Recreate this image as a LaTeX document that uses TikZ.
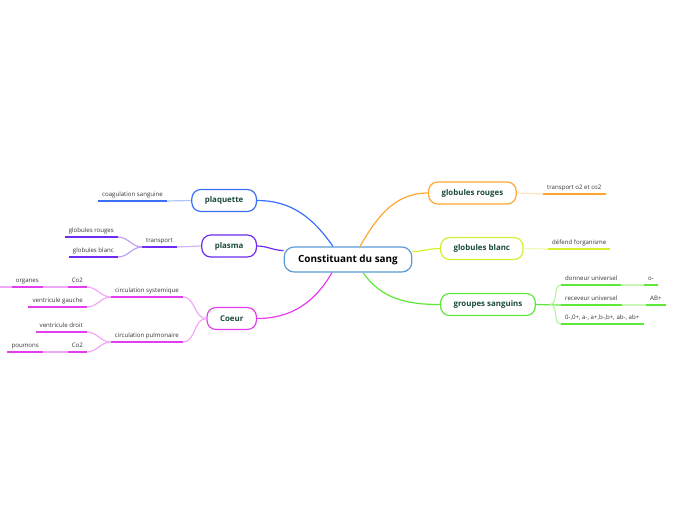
\documentclass[tikz,border=0pt]{standalone}
\usepackage{fontspec}
\setmainfont{Open Sans}
\definecolor{rootblue}{HTML}{5B9BD5}
\definecolor{topictext}{HTML}{1B4A3C}
\definecolor{blu}{HTML}{3A6FF7}
\definecolor{vio}{HTML}{6F2CF0}
\definecolor{mag}{HTML}{E23EF0}
\definecolor{ora}{HTML}{FFA630}
\definecolor{yel}{HTML}{D6EF2E}
\definecolor{grn}{HTML}{5EE83A}
\begin{document}
\begin{tikzpicture}
        [x=1pt, y=-1pt,
        root/.style={draw=rootblue, line width=1.2pt, rounded corners=10pt, fill=white, minimum height=25pt, inner xsep=14pt, font=\fontsize{9.9}{11}\selectfont\bfseries},
        topic/.style={line width=1.2pt, rounded corners=9pt, fill=white, minimum height=22pt, inner xsep=13pt, text=topictext, font=\fontsize{7.9}{9}\selectfont\bfseries},
        leaf/.style={inner xsep=4pt, inner ysep=2.5pt, text height=4.5pt, text depth=1.5pt, text=black!80, font=\fontsize{6.1}{7}\selectfont},
        link/.style={line width=1.2pt},
        under/.style={line width=1.7pt}]

        \useasboundingbox (0,0) rectangle (697,520);

        % centre and main topics
        \node[root] (centre) at (348,259.5) {Constituant du sang};
        \node[topic, draw=blu, anchor=east] (plaq) at (257,200.5) {plaquette};
        \node[topic, draw=vio, anchor=east] (plasma) at (257,246) {plasma};
        \node[topic, draw=mag, anchor=east] (coeur) at (257,318.5) {Coeur};
        \node[topic, draw=ora, anchor=west] (grouges) at (428,193) {globules rouges};
        \node[topic, draw=yel, anchor=west] (gblanc) at (440,248.5) {globules blanc};
        \node[topic, draw=grn, anchor=west] (gsang) at (440,304.5) {groupes sanguins};

        % leaves on the right
        \node[leaf, anchor=south west] (tro2) at (543,194) {transport o2 et co2};
        \node[leaf, anchor=south west] (defend) at (548,249) {défend l'organisme};
        \node[leaf, anchor=south west] (donneur) at (561,285) {donneur universel};
        \node[leaf, anchor=south west] (oneg) at (644,285) {o-};
        \node[leaf, anchor=south west] (receveur) at (561,305) {receveur universel};
        \node[leaf, anchor=south west] (abpos) at (646,305) {AB+};
        \node[leaf, anchor=south west] (liste) at (561,324) {0-,0+, a-, a+,b-,b+, ab-, ab+};

        % leaves on the left
        \node[leaf, anchor=south east] (coag) at (167,201) {coagulation sanguine};
        \node[leaf, anchor=south east] (transp) at (177,247) {transport};
        \node[leaf, anchor=south east] (lgrouge) at (118,237) {globules rouges};
        \node[leaf, anchor=south east] (lgblanc) at (118,257) {globules blanc};
        \node[leaf, anchor=south east] (circsys) at (183,297) {circulation systemique};
        \node[leaf, anchor=south east] (circpul) at (183,342) {circulation pulmonaire};
        \node[leaf, anchor=south east] (coa) at (87,287) {Co2};
        \node[leaf, anchor=south east] (organes) at (43,287) {organes};
        \node[leaf, anchor=south east] (ventg) at (87,307) {ventricule gauche};
        \node[leaf, anchor=south east] (ventd) at (87,332) {ventricule droit};
        \node[leaf, anchor=south east] (cob) at (87,352) {Co2};
        \node[leaf, anchor=south east] (poumons) at (43,352) {poumons};
        \coordinate (bord) at (0,287);
        \coordinate (gfork) at (550,304.5);

        % links from the centre
        \draw[link, blu] ([xshift=-15pt]centre.north) to[out=125,in=0] (plaq.east);
        \draw[link, vio] ([yshift=9pt]centre.west) to[out=180,in=0] (plasma.east);
        \draw[link, mag] ([xshift=-16pt]centre.south) to[out=-120,in=0] (coeur.east);
        \draw[link, ora] ([xshift=12pt]centre.north) to[out=60,in=180] (grouges.west);
        \draw[link, yel] ([yshift=8pt]centre.east) to[out=0,in=180] (gblanc.west);
        \draw[link, grn] ([xshift=15pt]centre.south) to[out=-55,in=180] (gsang.west);

        % plaquette
        \draw[link, blu!40] (plaq.west) -- (coag.south east);
        \draw[under, blu] (coag.south west) -- (coag.south east);

        % plasma
        \draw[link, vio!35] (plasma.west) -- (transp.south east);
        \draw[under, vio] (transp.south west) -- (transp.south east);
        \draw[link, vio!45] (transp.south west) to[out=180,in=0] (lgrouge.south east);
        \draw[link, vio!45] (transp.south west) to[out=180,in=0] (lgblanc.south east);
        \draw[under, vio] (lgrouge.south west) -- (lgrouge.south east);
        \draw[under, vio] (lgblanc.south west) -- (lgblanc.south east);

        % Coeur
        \draw[link, mag!45] (coeur.west) to[out=180,in=0] (circsys.south east);
        \draw[link, mag!45] (coeur.west) to[out=180,in=0] (circpul.south east);
        \draw[under, mag] (circsys.south west) -- (circsys.south east);
        \draw[under, mag] (circpul.south west) -- (circpul.south east);
        \draw[link, mag!45] (circsys.south west) to[out=180,in=0] (coa.south east);
        \draw[link, mag!45] (circsys.south west) to[out=180,in=0] (ventg.south east);
        \draw[link, mag!45] (circpul.south west) to[out=180,in=0] (ventd.south east);
        \draw[link, mag!45] (circpul.south west) to[out=180,in=0] (cob.south east);
        \draw[under, mag] (coa.south west) -- (coa.south east);
        \draw[under, mag] (ventg.south west) -- (ventg.south east);
        \draw[under, mag] (ventd.south west) -- (ventd.south east);
        \draw[under, mag] (cob.south west) -- (cob.south east);
        \draw[link, mag!45] (coa.south west) -- (organes.south east);
        \draw[link, mag!45] (cob.south west) -- (poumons.south east);
        \draw[link, mag!45] (organes.south west) -- (bord);
        \draw[under, mag] (organes.south west) -- (organes.south east);
        \draw[under, mag] (poumons.south west) -- (poumons.south east);

        % globules rouges and globules blanc
        \draw[link, ora!30] (grouges.east) -- (tro2.south west);
        \draw[under, ora] (tro2.south west) -- (tro2.south east);
        \draw[link, yel!35] (gblanc.east) -- (defend.south west);
        \draw[under, yel] (defend.south west) -- (defend.south east);

        % groupes sanguins
        \draw[link, grn] (gsang.east) -- (receveur.south west);
        \draw[link, grn!45] (gfork) to[out=0,in=180] (donneur.south west);
        \draw[link, grn!45] (gfork) to[out=0,in=180] (liste.south west);
        \draw[under, grn] (donneur.south west) -- (donneur.south east);
        \draw[link, grn!35] (donneur.south east) -- (oneg.south west);
        \draw[under, grn] (oneg.south west) -- (oneg.south east);
        \draw[under, grn] (receveur.south west) -- (receveur.south east);
        \draw[link, grn!35] (receveur.south east) -- (abpos.south west);
        \draw[under, grn] (abpos.south west) -- (abpos.south east);
        \draw[under, grn] (liste.south west) -- (liste.south east);

        \end{tikzpicture}
\end{document}
